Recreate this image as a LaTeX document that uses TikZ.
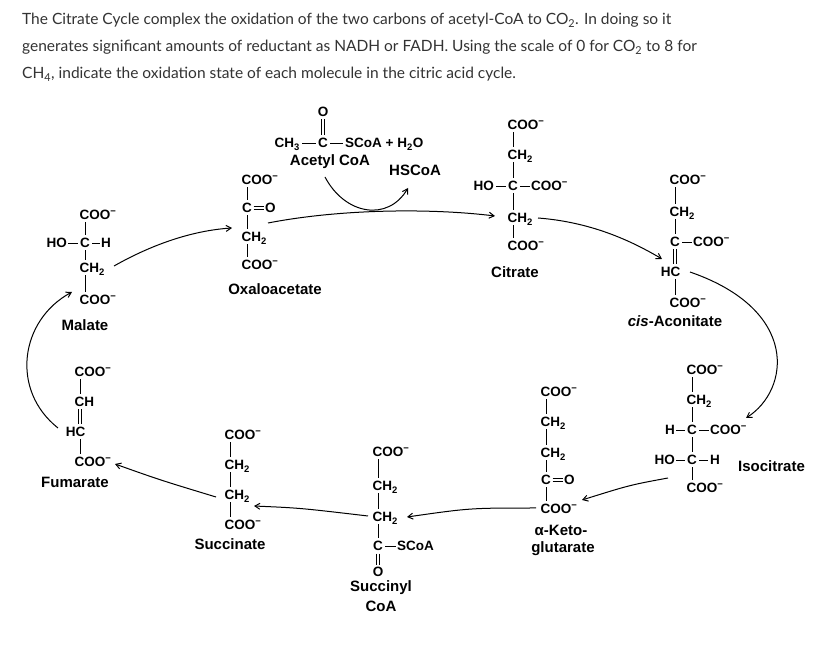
\documentclass[tikz,border=0pt]{standalone}
\usepackage{fontspec}
\setmainfont{Lato}
\newfontfamily\chem{Liberation Sans}
\usetikzlibrary{arrows.meta}
\newcommand\vb[3]{\draw[bond] (#1,#2+7.5) -- (#1,#3-7.5);}
\newcommand\vbb[3]{\draw[bond] (#1-1.6,#2+7.5) -- (#1-1.6,#3-7.5) (#1+1.6,#2+7.5) -- (#1+1.6,#3-7.5);}
\newcommand\hb[3]{\draw[bond] (#1,#3) -- (#2,#3);}
\newcommand\coo{COO\textsuperscript{−}}
\newcommand\chz{CH\textsubscript{2}}
\begin{document}
\begin{tikzpicture}[x=1pt,y=-1pt,
  atom/.style={font=\chem\bfseries\fontsize{13.5}{13.5}\selectfont,inner sep=0pt,text height=9.7pt,text depth=0pt},
  lab/.style={font=\chem\bfseries\fontsize{15}{15}\selectfont,inner sep=0pt},
  bond/.style={line width=0.9pt},
  rx/.style={line width=1pt,-{Straight Barb[length=5pt,width=6pt]}},
  head/.style={font=\fontsize{15.5}{15.5}\selectfont,color=black!80,anchor=base west,inner sep=0pt}]
\useasboundingbox (0,0) rectangle (831,652);
\fill[white] (0,0) rectangle (831,652);
% heading
\node[head] (h1) at (22,25) {The Citrate Cycle complex the oxidation of the two carbons of acetyl-CoA to CO\textsubscript{2}. In doing so it};
\node[head] (h2) at (22,52) {generates significant amounts of reductant as NADH or FADH. Using the scale of 0 for CO\textsubscript{2} to 8 for};
\node[head] (h3) at (22,79) {CH\textsubscript{4}, indicate the oxidation state of each molecule in the citric acid cycle.};
% Acetyl CoA
\node[atom] (aO) at (323,112) {O};
\vbb{323}{112}{143}
\node[atom,anchor=east] (aCH3) at (300,143) {CH\textsubscript{3}};
\hb{302}{316}{143}
\node[atom] (aC) at (323,143) {C};
\hb{330}{343}{143}
\node[atom,anchor=west] (aS) at (345,143) {SCoA + H\textsubscript{2}O};
\node[lab] (aL) at (330,162) {Acetyl CoA};
\node[lab] (hs) at (415,170) {HSCoA};
% Oxaloacetate
\node[atom,anchor=west] (o1) at (241.5,180) {\coo};
\vb{247}{180}{208}
\node[atom] (o2) at (247,208) {C};
\draw[bond] (253.5,206.4) -- (264,206.4) (253.5,209.6) -- (264,209.6);
\node[atom,anchor=west] (o2b) at (265,208) {O};
\vb{247}{208}{237}
\node[atom,anchor=west] (o3) at (241.5,237) {\chz};
\vb{247}{237}{265}
\node[atom,anchor=west] (o4) at (241.5,265) {\coo};
\node[lab] (oL) at (275,289) {Oxaloacetate};
% Citrate
\node[atom,anchor=west] (c1) at (507.5,125) {\coo};
\vb{513}{125}{155}
\node[atom,anchor=west] (c2) at (507.5,155) {\chz};
\vb{513}{155}{186}
\node[atom,anchor=east] (c3a) at (494,186) {HO};
\hb{496}{506}{186}
\node[atom] (c3) at (513,186) {C};
\hb{520}{530}{186}
\node[atom,anchor=west] (c3b) at (531,186) {\coo};
\vb{513}{186}{218}
\node[atom,anchor=west] (c4) at (507.5,218) {\chz};
\vb{513}{218}{246}
\node[atom,anchor=west] (c5) at (507.5,246) {\coo};
\node[lab] (cL) at (515,272) {Citrate};
% cis-Aconitate
\node[atom,anchor=west] (k1) at (669.5,180) {\coo};
\vb{675}{180}{212}
\node[atom,anchor=west] (k2) at (669.5,212) {\chz};
\vb{675}{212}{242}
\node[atom] (k3) at (675,242) {C};
\hb{682}{692}{242}
\node[atom,anchor=west] (k3b) at (693,242) {\coo};
\vbb{675}{242}{272}
\node[atom,anchor=east] (k4) at (680.5,272) {HC};
\vb{675}{272}{303}
\node[atom,anchor=west] (k5) at (669.5,303) {\coo};
\node[lab] (kL) at (675,321) {\textit{cis}-Aconitate};
% Isocitrate
\node[atom,anchor=west] (i1) at (686.5,370) {\coo};
\vb{692}{370}{400}
\node[atom,anchor=west] (i2) at (686.5,400) {\chz};
\vb{692}{400}{430}
\node[atom,anchor=east] (i3a) at (675,430) {H};
\hb{676}{685}{430}
\node[atom] (i3) at (692,430) {C};
\hb{699}{709}{430}
\node[atom,anchor=west] (i3b) at (710,430) {\coo};
\vb{692}{430}{460}
\node[atom,anchor=east] (i4a) at (675,460) {HO};
\hb{676}{685}{460}
\node[atom] (i4) at (692,460) {C};
\hb{699}{708}{460}
\node[atom,anchor=west] (i4b) at (710,460) {H};
\vb{692}{460}{488}
\node[atom,anchor=west] (i5) at (686.5,488) {\coo};
\node[lab,anchor=west] (iL) at (738,466) {Isocitrate};
% alpha-Ketoglutarate
\node[atom,anchor=west] (g1) at (540.5,392) {\coo};
\vb{546}{392}{422}
\node[atom,anchor=west] (g2) at (540.5,422) {\chz};
\vb{546}{422}{453}
\node[atom,anchor=west] (g3) at (540.5,453) {\chz};
\vb{546}{453}{480}
\node[atom] (g4) at (546,480) {C};
\draw[bond] (552.5,478.4) -- (563,478.4) (552.5,481.6) -- (563,481.6);
\node[atom,anchor=west] (g4b) at (564,480) {O};
\vb{546}{480}{509}
\node[atom,anchor=west] (g5) at (540.5,509) {\coo};
\node[lab] (gL1) at (561,530) {α-Keto-};
\node[lab] (gL2) at (563,549) {glutarate};
% Succinyl CoA
\node[atom,anchor=west] (s1) at (372.5,452) {\coo};
\vb{378}{452}{486}
\node[atom,anchor=west] (s2) at (372.5,486) {\chz};
\vb{378}{486}{517}
\node[atom,anchor=west] (s3) at (372.5,517) {\chz};
\vb{378}{517}{546}
\node[atom] (s4) at (378,546) {C};
\hb{385}{396}{546}
\node[atom,anchor=west] (s4b) at (397,546) {SCoA};
\vbb{378}{546}{572}
\node[atom] (s5) at (378,572) {O};
\node[lab] (sL1) at (381,588) {Succinyl};
\node[lab] (sL2) at (381,606) {CoA};
% Succinate
\node[atom,anchor=west] (u1) at (224.5,435) {\coo};
\vb{230}{435}{465}
\node[atom,anchor=west] (u2) at (224.5,465) {\chz};
\vb{230}{465}{495}
\node[atom,anchor=west] (u3) at (224.5,495) {\chz};
\vb{230}{495}{525}
\node[atom,anchor=west] (u4) at (224.5,525) {\coo};
\node[lab] (uL) at (230,544) {Succinate};
% Fumarate
\node[atom,anchor=west] (f1) at (74.5,372) {\coo};
\vb{80}{372}{402}
\node[atom,anchor=west] (f2) at (74.5,402) {CH};
\vbb{80}{402}{432}
\node[atom,anchor=east] (f3) at (85.5,432) {HC};
\vb{80}{432}{462}
\node[atom,anchor=west] (f4) at (74.5,462) {\coo};
\node[lab] (fL) at (75,482) {Fumarate};
% Malate
\node[atom,anchor=west] (m1) at (79.5,215) {\coo};
\vb{85}{215}{243}
\node[atom,anchor=east] (m2a) at (67,243) {HO};
\hb{68}{78}{243}
\node[atom] (m2) at (85,243) {C};
\hb{92}{100}{243}
\node[atom,anchor=west] (m2b) at (101,243) {H};
\vb{85}{243}{268}
\node[atom,anchor=west] (m3) at (79.5,268) {\chz};
\vb{85}{268}{300}
\node[atom,anchor=west] (m4) at (79.5,300) {\coo};
\node[lab] (mL) at (85,325) {Malate};
% reaction arrows
\draw[rx] (268,223) .. controls (340,209) and (430,208) .. (495,216);
\draw[rx] (325,177) .. controls (345,215) and (388,222) .. (408,188);
\draw[rx] (114,266) .. controls (160,240) and (200,230) .. (232,228);
\draw[rx] (538,218) .. controls (590,222) and (630,240) .. (662,259);
\draw[rx] (690,272) .. controls (800,310) and (790,390) .. (746,418);
\draw[rx] (668,478) .. controls (630,485) .. (582,500);
\draw[rx] (536,508) .. controls (470,508) .. (407,517);
\draw[rx] (368,516) .. controls (300,508) .. (254,506);
\draw[rx] (216,497) .. controls (160,480) .. (115,464);
\draw[rx] (58,428) .. controls (10,390) and (20,320) .. (72,292);
\end{tikzpicture}
\end{document}
